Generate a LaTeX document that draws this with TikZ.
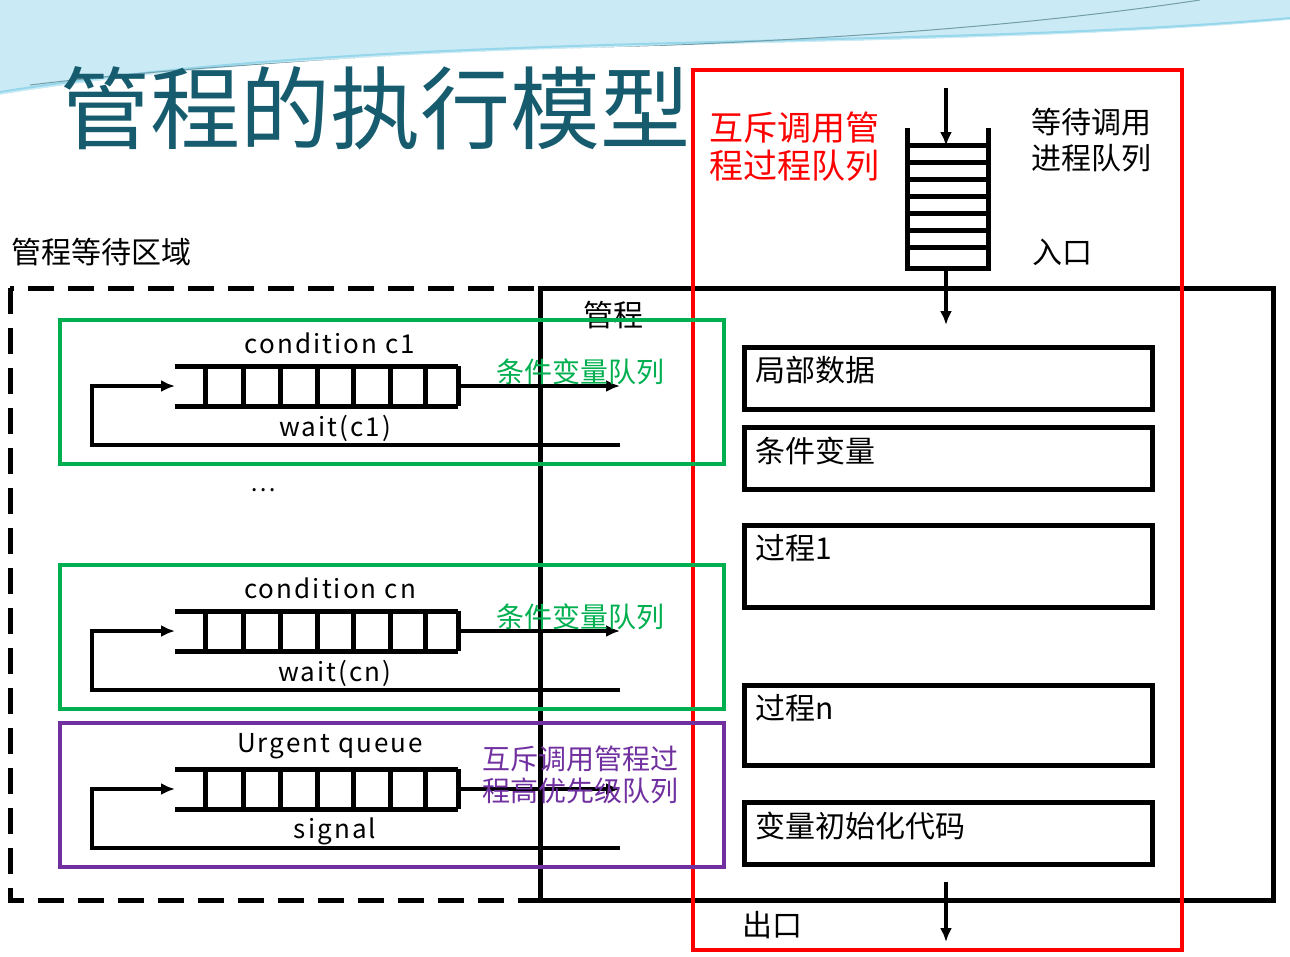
\documentclass[tikz,border=0pt]{standalone}
\usepackage{fontspec}
\setmainfont{Noto Sans CJK SC}
\usetikzlibrary{arrows.meta,positioning}
\definecolor{titleteal}{RGB}{22,92,110}
\definecolor{qgreen}{RGB}{0,176,80}
\definecolor{qpurple}{RGB}{112,48,160}
\definecolor{wave}{RGB}{150,215,235}
\tikzset{
  fs/.style={font=\fontsize{#1}{#1}\selectfont},
  box/.style={draw,line width=5pt,minimum width=408pt,anchor=north west,inner sep=0pt},
  boxtext/.style={fs=30,anchor=north west,xshift=10pt,yshift=-8pt},
  flow/.style={line width=3.5pt,-{Latex[length=14pt,width=12pt]}},
}
\begin{document}
\begin{tikzpicture}[x=1pt,y=-1pt]
\useasboundingbox (0,0) rectangle (1290,956);
%% background wave
\fill[wave!50] (0,0) -- (1290,0) -- (1290,20) .. controls (900,55) and (400,30) .. (0,95) -- cycle;
\draw[wave,line width=2pt] (0,92) .. controls (400,28) and (900,52) .. (1290,18);
\draw[titleteal!60,line width=1pt] (30,85) .. controls (400,40) and (800,60) .. (1200,0);
\fill[white] (0,95) .. controls (400,30) and (900,55) .. (1290,20) -- (1290,956) -- (0,956) -- cycle;

%% title and area labels
\node[fs=90,text=titleteal] (title) at (375,108) {管程的执行模型};
\node[fs=30,anchor=west] (waitarea) at (8,252) {管程等待区域};
\draw[line width=5pt,dash pattern=on 26pt off 14pt] (10,288) rectangle (540,900);
\draw[line width=5pt] (540,288) rectangle (1273,900);
\node[fs=30] (monitor) at (613,315) {管程};
\draw[red,line width=3.5pt] (693,70) rectangle (1182,950);
\node[fs=34,text=red,anchor=north west,align=left] (mutex) at (706,108) {互斥调用管\\[4pt]程过程队列};

%% entry queue
\draw[line width=5pt] (907,128) -- (907,268) -- (988,268) -- (988,128);
\foreach \y in {145,162,179,196,213,230,247}
  \draw[line width=5pt] (907,\y) -- (988,\y);
\coordinate (inq) at (946,88);
\coordinate (intop) at (946,146);
\coordinate (outq) at (946,268);
\coordinate (inbox) at (946,325);
\draw[flow] (inq) -- (intop);
\draw[flow] (outq) -- (inbox);
\node[fs=30,anchor=north west,align=left] (waitq) at (1028,105) {等待调用\\[6pt]进程队列};
\node[fs=30] (entry) at (1062,252) {入口};

%% monitor contents
\node[box,minimum height=62pt] (data) at (742,345) {};
\node[boxtext] at (data.north west) {局部数据};
\node[box,minimum height=62pt] (cvar) at (742,425) {};
\node[boxtext] at (cvar.north west) {条件变量};
\node[box,minimum height=82pt] (proc1) at (742,523) {};
\node[boxtext] at (proc1.north west) {过程1};
\node[box,minimum height=80pt] (procn) at (742,683) {};
\node[boxtext] at (procn.north west) {过程n};
\node[box,minimum height=62pt] (init) at (742,800) {};
\node[boxtext] at (init.north west) {变量初始化代码};
\coordinate (exitt) at (946,882);
\coordinate (exitb) at (946,942);
\draw[flow] (exitt) -- (exitb);
\node[fs=30] (exit) at (772,925) {出口};

%% condition queues
\foreach \t/\c/\top/\bot/\lab in {0/qgreen/condition c1/wait(c1)/条件变量队列,
                                  245/qgreen/condition cn/wait(cn)/条件变量队列,
                                  403/qpurple/Urgent queue/signal/{互斥调用管程过\\[4pt]程高优先级队列}}{
  \begin{scope}[yshift=-\t]
    \draw[\c,line width=3.5pt] (60,320) rectangle (724,464);
    \draw[line width=5pt] (175,366) -- (458,366) (175,406) -- (458,406);
    \foreach \x in {205,243,280,317,353,390,425,458}
      \draw[line width=5pt] (\x,366) -- (\x,406);
    \coordinate (qin) at (175,386);
    \coordinate (qout) at (458,386);
    \coordinate (qend) at (620,386);
    \coordinate (lend) at (620,445);
    \coordinate (lcorner) at (92,445);
    \draw[flow] (qout) -- (qend);
    \draw[flow] (lend) -- (lcorner) |- (qin);
    \node[font=\fontsize{26}{26}\selectfont\addfontfeature{LetterSpace=8}] at (330,343) {\top};
    \node[font=\fontsize{26}{26}\selectfont\addfontfeature{LetterSpace=8}] at (335,428) {\bot};
    \node[fs=28,text=\c,align=left] at (580,372) {\lab};
  \end{scope}
}
\node[fs=24] (dots) at (263,490) {…};
\end{tikzpicture}
\end{document}
